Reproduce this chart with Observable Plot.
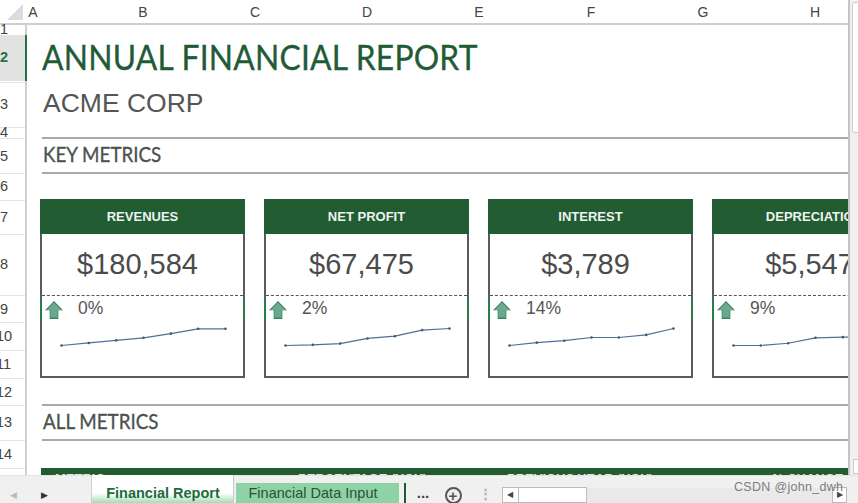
<!DOCTYPE html>
<html>
<head>
<meta charset="utf-8">
<script src="https://cdn.jsdelivr.net/npm/d3@7"></script>
<script src="https://cdn.jsdelivr.net/npm/@observablehq/plot@0.6"></script>
<style>
html,body{margin:0;padding:0;background:#fff;width:858px;height:503px;overflow:hidden;font-family:"Liberation Sans",Arial,sans-serif}
#page{position:relative;width:858px;height:503px;overflow:hidden}
#sheet{position:absolute;left:0;top:0;width:848px;height:475px;overflow:hidden;background:#fff}
.abs{position:absolute}
.t{position:absolute;white-space:nowrap;line-height:1}
.c{transform:translate(-50%,-50%)}
.hum{font-family:Lato,"Noto Sans",sans-serif;transform:scaleX(.895);transform-origin:0 50%;-webkit-text-stroke:.35px currentColor}
.rule{position:absolute;left:42px;width:806px;height:2px;background:#a9a9a9}
.card{position:absolute;top:199px;width:205px;height:179px;box-sizing:border-box;border:2px solid #5a5a5a;border-top:0;background:#fff}
.card .head{position:absolute;left:-2px;right:-2px;top:0;height:35px;background:#215c33;color:#eef3ee;font-weight:bold;font-size:13px;text-align:center;line-height:35px}
.card .val{position:absolute;left:0;right:10px;top:50px;text-align:center;font-size:29px;line-height:30px;color:#4b4b4b}
.card .dash{position:absolute;left:0;right:0;top:96px;border-top:1px dashed #555}
.card .edgeL,.card .edgeR{position:absolute;top:97px;height:26px;width:2px;background:#2f7a4a}
.card .edgeL{left:-2px}.card .edgeR{right:-2px}
.card .pct{position:absolute;left:36px;top:100px;font-size:17.5px;line-height:18px;color:#555}
.card .arrow{position:absolute;left:3px;top:102px;width:18px;height:18px;background:#3e8064;clip-path:polygon(50% 0,100% 52%,74% 52%,74% 100%,26% 100%,26% 52%,0 52%)}
.card .arrow i{position:absolute;inset:1.5px;background:#6aa98c;clip-path:polygon(50% 0,100% 52%,74% 52%,74% 100%,26% 100%,26% 52%,0 52%)}
.card svg{position:absolute;left:0;top:121px;background:transparent;overflow:visible}
#corner{position:absolute;left:7px;top:4px;width:0;height:0;border-left:16px solid transparent;border-bottom:16px solid #dcdcdc}
#bar{position:absolute;left:0;top:475px;width:858px;height:28px;background:#f0f0f0}
</style>
</head>
<body>
<div id="page">
  <div id="sheet"></div>
  <div id="bar"></div>
</div>
<script>
const columnLabels = ["A","B","C","D","E","F","G","H"];
const columnCenters = [33,143,255,367,479,591,703,815];
const rowLabels = ["1","2","3","4","5","6","7","8","9","10","11","12","13","14"];
const rowCenters = [29,57,104,132,156,186,217,264,309,336,364,392,422,454];
const rowEdges = [35,82,127,138,173,200,234,295,322,350,378,405,440,468];
const metricNames = ["REVENUES","NET PROFIT","INTEREST","DEPRECIATION"];
const metricValues = ["$180,584","$67,475","$3,789","$5,547"];
const metricChanges = ["0%","2%","14%","9%"];
const sparkRevenues = [0,8,16,24,37,52,52];
const sparkNetProfit = [0,2,6,22,29,48,53];
const sparkInterest = [0,9,15,25,25,33,53];
const sparkDepreciation = [0,0,7,24,26,28,53];
const sparkSeries = [sparkRevenues,sparkNetProfit,sparkInterest,sparkDepreciation];
const tableHeaders = ["METRIC","PERCENTAGE (YOY)","PREVIOUS YEAR (YOY)","% CHANGE"];
const tableHeaderX = [55,298,507,772];
const cardLefts = [40,264,488,712];

const sheet = document.getElementById("sheet");
const bar = document.getElementById("bar");
const page = document.getElementById("page");
function add(parent, cls, css, text){
  const e = document.createElement("div");
  e.className = cls;
  e.style.cssText = css;
  if (text != null) e.textContent = text;
  parent.appendChild(e);
  return e;
}

// row / column headers
add(sheet,"abs","left:0;top:0;width:848px;height:23px;background:#fff;border-bottom:2px solid #cfcfcf");
add(sheet,"abs","left:25px;top:23px;width:2px;height:452px;background:#cfcfcf");
add(sheet,"abs","left:0;top:35px;width:25px;height:46px;background:#e2e2e2");
add(sheet,"abs","left:25px;top:35px;width:2px;height:46px;background:#217346");
const corner = document.createElement("div"); corner.id = "corner"; sheet.appendChild(corner);
rowEdges.forEach(y => add(sheet,"abs",`left:0;top:${y}px;width:25px;height:1px;background:#e4e4e4`));
columnLabels.forEach((c,i) => add(sheet,"t c",`left:${columnCenters[i]}px;top:12px;font-size:14px;color:#444`,c));
rowLabels.forEach((r,i) => add(sheet,"t",`left:${r.length>1?-4:0}px;top:${rowCenters[i]-7}px;font-size:14.5px;color:${r==="2"?"#217346":"#444"};font-weight:${r==="2"?"bold":"normal"}`,r));

// titles
add(sheet,"t hum",`left:42px;top:39px;font-size:35.5px;letter-spacing:0.25px;color:#1f5c36`,"ANNUAL FINANCIAL REPORT");
add(sheet,"t",`left:43px;top:90px;font-size:26.5px;color:#555`,"ACME CORP");
[137,172,404,439].forEach(y => add(sheet,"rule",`top:${y}px`));
add(sheet,"t hum",`left:43px;top:143px;font-size:21px;color:#4b5350`,"KEY METRICS");
add(sheet,"t hum",`left:43px;top:410px;font-size:21px;color:#4b5350`,"ALL METRICS");

// table header, cut by the sheet's lower edge
add(sheet,"abs","left:41px;top:468px;width:807px;height:7px;background:#215c33");
tableHeaders.forEach((h,i) => add(sheet,"t",`left:${tableHeaderX[i]}px;top:472px;font-size:13px;font-weight:bold;color:#dfe9e2`,h));

// cards
metricNames.forEach((name,i) => {
  const card = add(sheet,"card",`left:${cardLefts[i]}px`);
  add(card,"head","",name);
  add(card,"val","",metricValues[i]);
  add(card,"dash","");
  add(card,"edgeL","");
  add(card,"edgeR","");
  add(card,"pct","",metricChanges[i]);
  add(card,"arrow","").appendChild(document.createElement("i"));
  const points = sparkSeries[i].map((v,k) => ({k, v}));
  card.appendChild(Plot.plot({
    width: 201, height: 40,
    marginLeft: 19, marginRight: 18, marginTop: 8, marginBottom: 15,
    x: {axis: null, domain: [0,6]},
    y: {axis: null, domain: [0,53]},
    marks: [
      Plot.line(points, {x:"k", y:"v", stroke:"#4f6f9a", strokeWidth:1.2}),
      Plot.dot(points, {x:"k", y:"v", r:1.3, fill:"#555", stroke:"none"})
    ]
  }));
});

// right scrollbar
add(page,"abs","left:848px;top:0;width:2px;height:475px;background:#c4c4c4");
add(page,"abs","left:850px;top:0;width:8px;height:475px;background:#f0f0f0");
add(page,"abs","left:852px;top:2px;width:8px;height:131px;background:#fff;border:1px solid #ccc;border-radius:3px;box-sizing:border-box");
add(page,"abs","left:853px;top:459px;width:7px;height:15px;background:#fff;border:1px solid #ccc;box-sizing:border-box");

// tab bar
add(bar,"abs","left:0;top:0;width:858px;height:1px;background:#e2e2e2");
add(bar,"t c","left:13px;top:20px;font-size:9px;color:#bbb","◀");
add(bar,"t c","left:44px;top:20px;font-size:9px;color:#333","▶");
add(bar,"abs","left:91px;top:0;width:1px;height:28px;background:#d0d0d0");
add(bar,"abs","left:92px;top:0;width:141px;height:28px;background:linear-gradient(#fff 0,#fff 65%,#a4dcb6 100%)");
add(bar,"t c","left:163px;top:18px;font-size:14.5px;font-weight:bold;color:#1f6b3c","Financial Report");
add(bar,"abs","left:233px;top:0;width:1px;height:28px;background:#c8c8c8");
add(bar,"abs","left:236px;top:8px;width:163px;height:20px;background:#8dd3a5");
add(bar,"t c","left:313px;top:18px;font-size:14.5px;color:#2f4f3a","Financial Data Input");
add(bar,"abs","left:404px;top:8px;width:2px;height:20px;background:#1f5c36");
add(bar,"t c","left:423px;top:17px;font-size:15px;font-weight:bold;color:#444","...");
add(bar,"abs","left:445px;top:12px;width:13px;height:13px;border:2px solid #555;border-radius:50%");
add(bar,"t c","left:453px;top:20px;font-size:15px;font-weight:bold;color:#555","+");
add(bar,"t c","left:485px;top:18px;font-size:13px;font-weight:bold;color:#aaa","⋮");
add(bar,"abs","left:502px;top:12px;width:85px;height:16px;background:#fff;border:1px solid #bbb;box-sizing:border-box");
add(bar,"abs","left:518px;top:12px;width:1px;height:16px;background:#bbb");
add(bar,"t c","left:510px;top:20px;font-size:8px;color:#444","◀");
add(bar,"abs","left:587px;top:13px;width:246px;height:15px;background:#e9e9e9");
add(bar,"abs","left:832px;top:12px;width:15px;height:16px;background:#fff;border:1px solid #bbb;box-sizing:border-box");
add(bar,"t c","left:840px;top:20px;font-size:8px;color:#444","▶");
add(bar,"t","left:734px;top:6px;font-size:12.5px;letter-spacing:0.3px;color:#7d7d7d","CSDN @john_dwh");
</script>
</body>
</html>
